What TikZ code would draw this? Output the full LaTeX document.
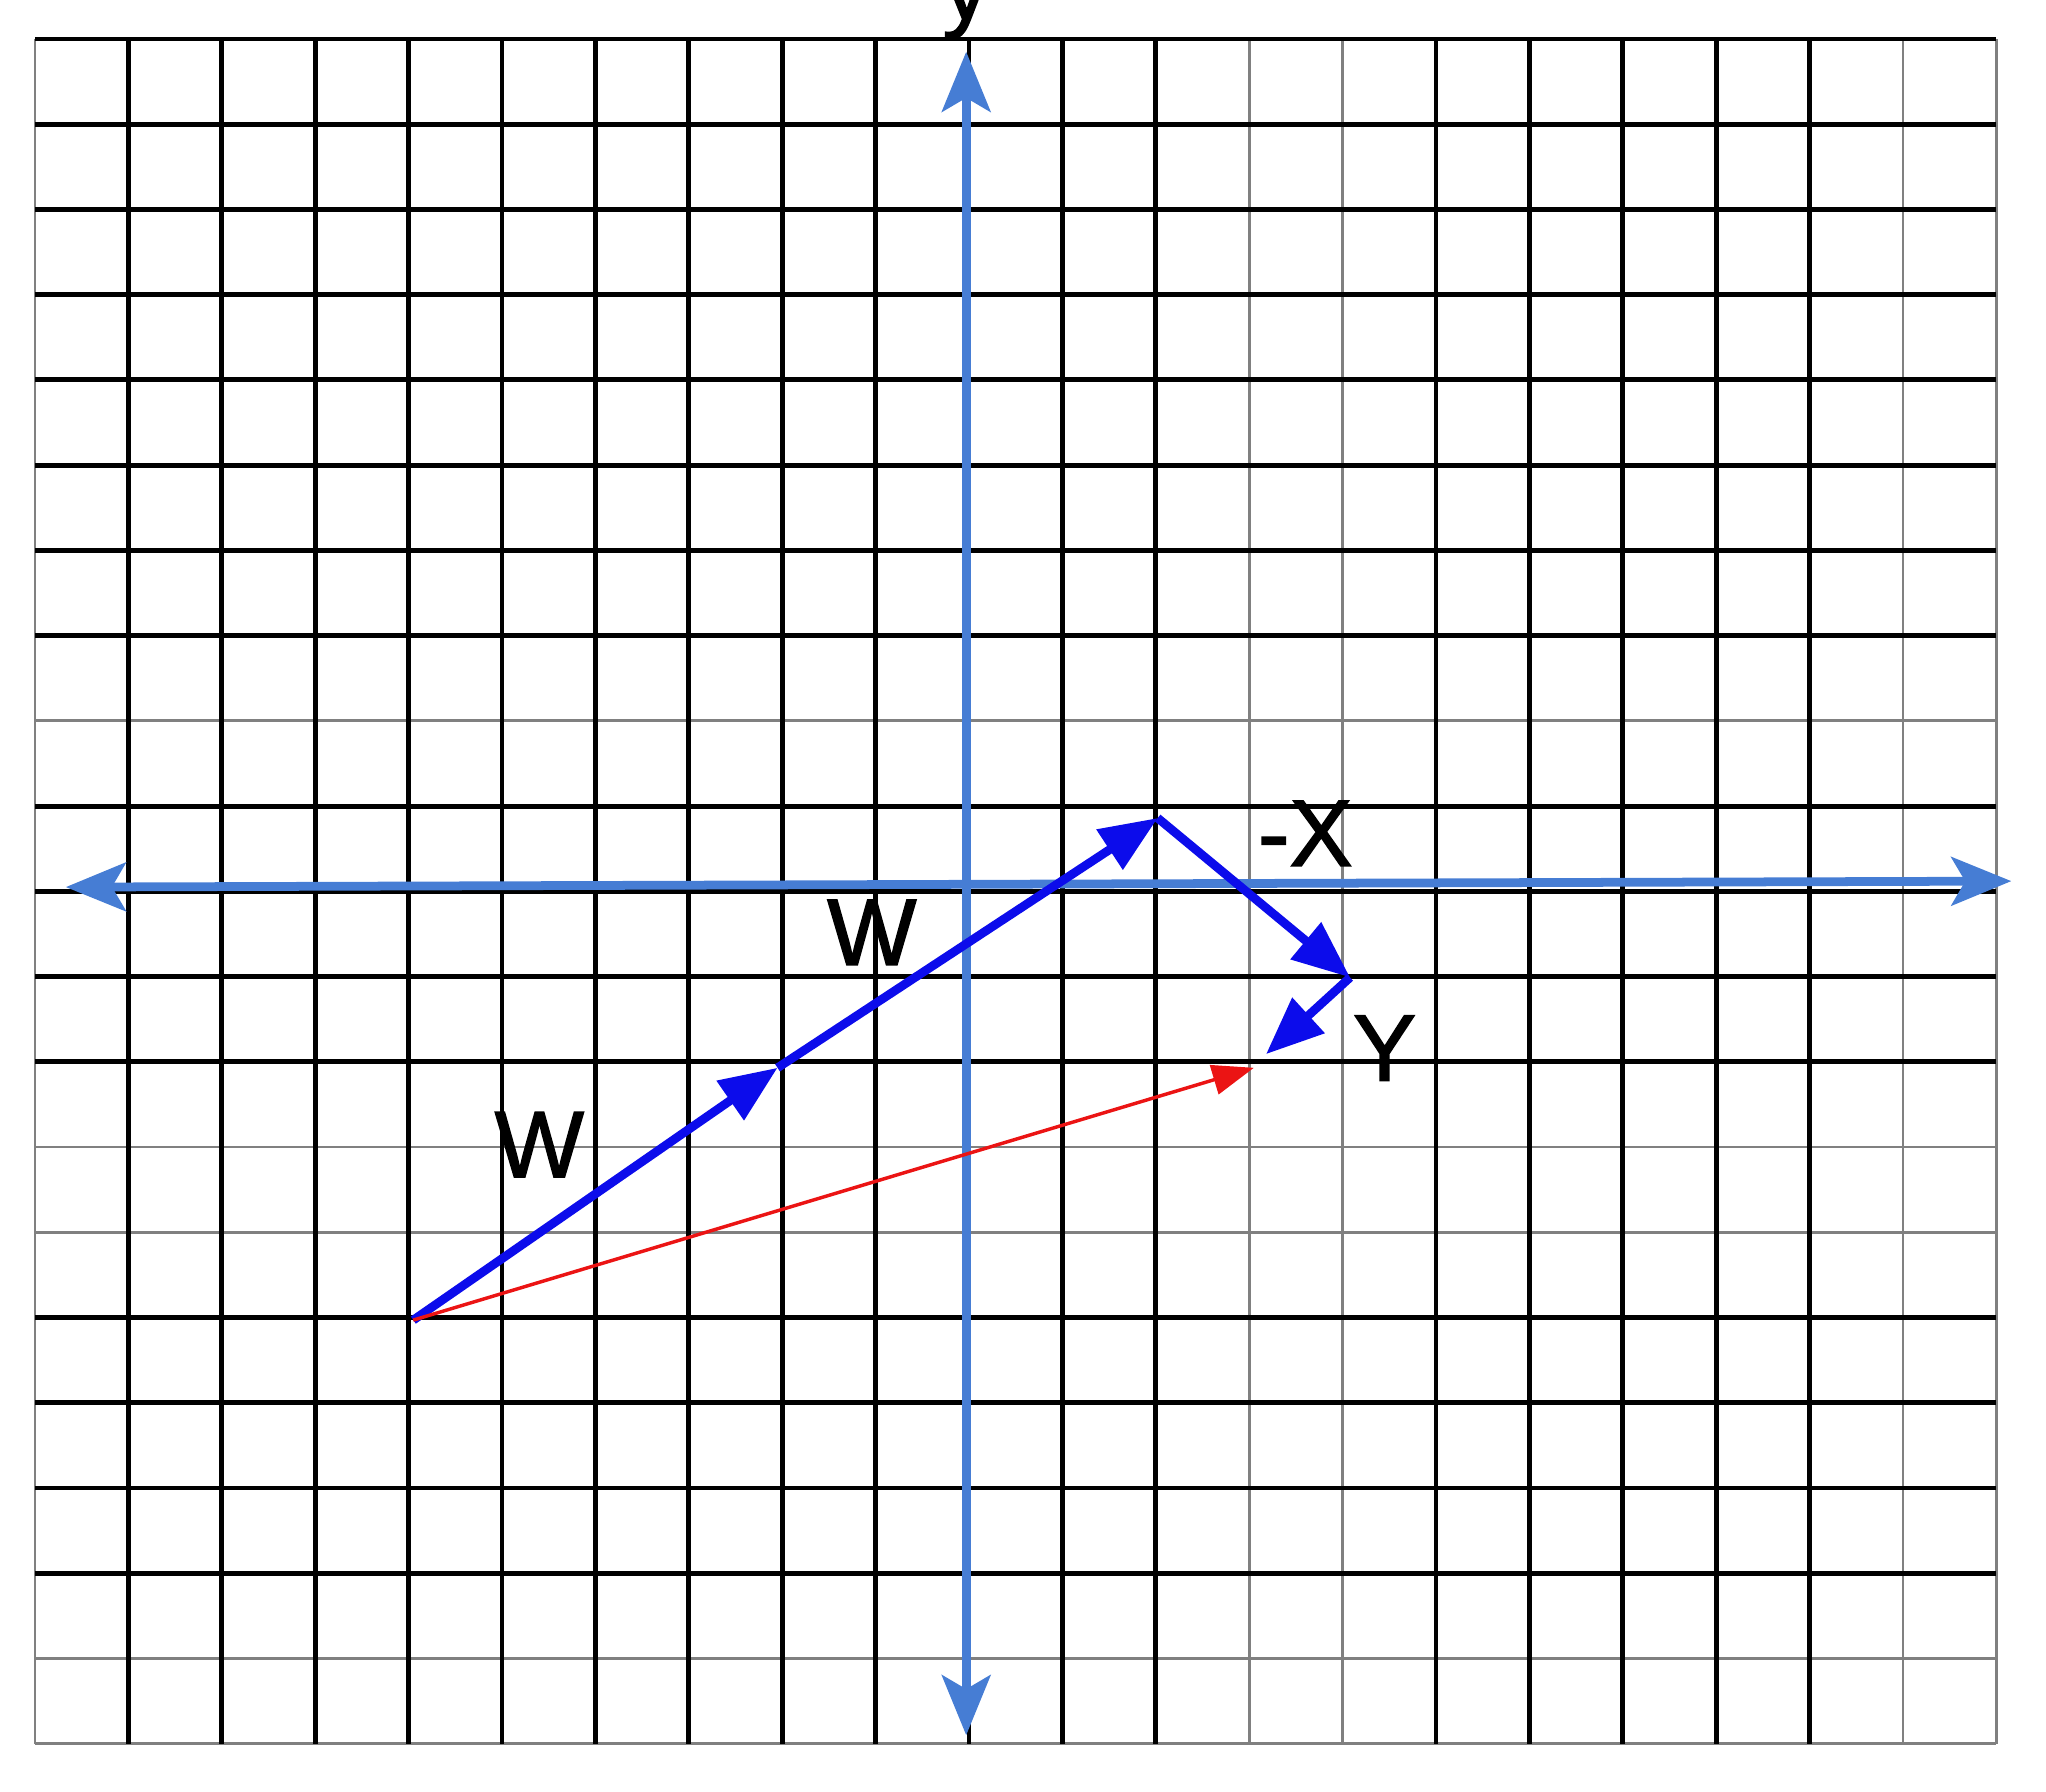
\documentclass[tikz,border=0pt]{standalone}
\usepackage{fontspec}
\setmainfont{Liberation Sans}
\newfontfamily\labelfont[FakeBold=1.6]{Liberation Sans}
\usetikzlibrary{arrows.meta}
\definecolor{axisblue}{RGB}{70,125,212}
\definecolor{vecblue}{RGB}{12,12,235}
\definecolor{sumred}{RGB}{235,20,20}
\begin{document}
\begin{tikzpicture}[
    x=0.7122cm, y=0.65cm,
    gridline/.style={black, line width=1.05pt},
    gridfaint/.style={black!50, line width=0.6pt},
    axis/.style={axisblue, line width=1.9pt, {Stealth[length=13pt,width=10.5pt,inset=3pt]}-{Stealth[length=13pt,width=10.5pt,inset=3pt]}},
    vec/.style={vecblue, line width=1.9pt, -{Triangle[length=12.5pt,width=10pt]}},
    sumvec/.style={sumred, line width=0.75pt, -{Triangle[length=9pt,width=6.5pt]}},
    vlabel/.style={font=\labelfont\fontsize{20.5}{24}\selectfont, inner sep=0pt}
    ]
    \useasboundingbox (-10.375,-10.564) rectangle (11.531,10.457);
    \foreach \x in {-10,3,4,10,11}
        \draw[gridfaint] (\x,-10) -- (\x,10);
    \foreach \y in {2,-3,-4,-9,-10}
        \draw[gridfaint] (-10,\y) -- (11,\y);
    \foreach \x in {-9,...,2,5,6,7,8,9}
        \draw[gridline] (\x,-10) -- (\x,10);
    \foreach \y in {10,9,...,3,1,0,-1,-2,-5,-6,-7,-8}
        \draw[gridline] (-10,\y) -- (11,\y);

    \coordinate (xl) at (-9.67,0.05);
    \coordinate (xr) at (11.16,0.12);
    \coordinate (yb) at (-0.03,-9.9);
    \coordinate (yt) at (-0.03,9.85);
    \draw[axis] (xl) -- (xr);
    \draw[axis] (yb) -- (yt);
    \node[vlabel, anchor=base] (ylab) at (-0.03,10.23) {y};

    \coordinate (start) at (-5.95,-5.03);
    \coordinate (wmid) at (-2.05,-2.07);
    \coordinate (wend) at (2.02,0.86);
    \coordinate (xend) at (4.08,-1.01);
    \coordinate (yend) at (3.18,-1.91);
    \coordinate (rend) at (3.05,-2.07);

    \draw[vec] (start) -- (wmid);
    \draw[vec] (wmid) -- (wend);
    \draw[vec] (wend) -- (xend);
    \draw[vec] (xend) -- (yend);
    \draw[sumvec] (start) -- (rend);

    \node[vlabel] (wone) at (-4.6,-2.97) {W};
    \node[vlabel] (wtwo) at (-1.04,-0.48) {W};
    \node[vlabel] (minusx) at (3.6,0.68) {-X};
    \node[vlabel] (ylabel) at (4.45,-1.84) {Y};
\end{tikzpicture}
\end{document}
